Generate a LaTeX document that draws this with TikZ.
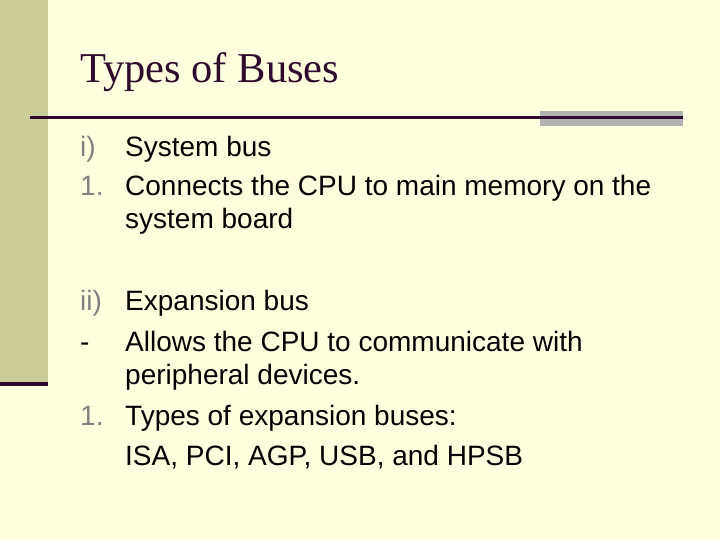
\documentclass[tikz,border=0pt]{standalone}
\usepackage{fontspec}
\setmainfont{Liberation Sans}
\newfontfamily\titlefont{Liberation Serif}
\definecolor{bg}{HTML}{FFFFE0}
\definecolor{side}{HTML}{CCCC99}
\definecolor{dk}{HTML}{2E0A2E}
\definecolor{gr}{HTML}{B2B2B2}
\definecolor{lbl}{HTML}{808080}
\tikzset{body/.style={anchor=base west,inner sep=0pt,font=\fontsize{28}{32}\selectfont},
lab/.style={body,text=lbl}}
\begin{document}
\begin{tikzpicture}[x=1pt,y=-1pt]
\fill[bg] (0,0) rectangle (720,540);
\useasboundingbox (0,0) rectangle (720,540);
\fill[side] (0,0) rectangle (48,382);
\fill[dk] (0,382) rectangle (48,386);
\fill[gr] (540,111) rectangle (683,126);
\fill[dk] (30,116) rectangle (683,119);
\node[anchor=base west,inner sep=0pt,text=dk,font=\titlefont\fontsize{42.5}{44}\selectfont] (t) at (80,83) {Types of Buses};
\node[lab] (l1) at (80,157) {i)};
\node[body] (a1) at (125,157) {System bus};
\node[lab] (l2) at (80,196) {1.};
\node[body] (a2) at (125,196) {Connects the CPU to main memory on the};
\node[body] (a3) at (125,229) {system board};
\node[lab] (l3) at (80,310) {ii)};
\node[body] (a4) at (125,310) {Expansion bus};
\node[body] (l4) at (80,351) {-};
\node[body] (a5) at (125,351) {Allows the CPU to communicate with};
\node[body] (a6) at (125,384) {peripheral devices.};
\node[lab] (l5) at (80,425) {1.};
\node[body] (a7) at (125,425) {Types of expansion buses:};
\node[body] (a8) at (125,465) {ISA, PCI, AGP, USB, and HPSB};
\end{tikzpicture}
\end{document}
